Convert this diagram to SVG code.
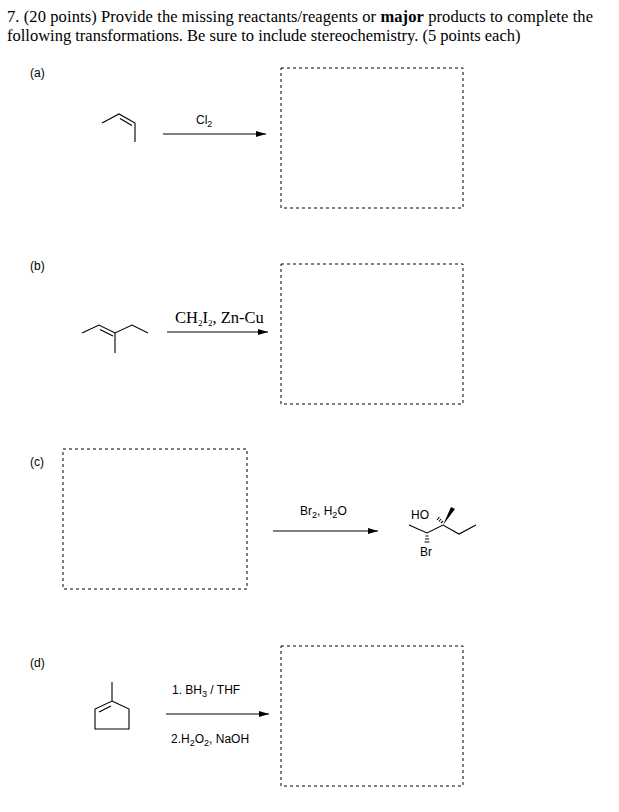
<svg xmlns="http://www.w3.org/2000/svg" width="619" height="812" viewBox="0 0 619 812">
<style>
.serif{font-family:"Liberation Serif",serif;font-size:16.5px;fill:#000}
.sans{font-family:"Liberation Sans",Arial,sans-serif;font-size:12px;fill:#000}
.box{fill:none;stroke:#000;stroke-width:1;stroke-dasharray:3,3}
.bond{fill:none;stroke:#000;stroke-width:1.1}
.arrow{stroke:#000;stroke-width:1.2;marker-end:url(#ah)}
</style>
<defs><marker id="ah" markerWidth="10" markerHeight="6" refX="10" refY="3" orient="auto" markerUnits="userSpaceOnUse"><path d="M0,0 L10,3 L0,6 Z" fill="#000"/></marker></defs>
<rect width="619" height="812" fill="#fff"/>
<text class="serif" x="7" y="22" textLength="586">7. (20 points) Provide the missing reactants/reagents or <tspan font-weight="bold">major</tspan> products to complete the</text>
<text class="serif" x="7" y="41">following transformations.  Be sure to include stereochemistry. (5 points each)</text>
<g id="a">
<text class="sans" x="30" y="77">(a)</text>
<path class="bond" d="M102,123 L119,114 L135,123 L135,142 M120,118.5 L132,125.5"/>
<text class="sans" x="196" y="124">Cl<tspan font-size="9" dy="3">2</tspan></text>
<rect class="box" x="281" y="68" width="182" height="140"/>
</g>
<g id="b">
<text class="sans" x="30" y="270">(b)</text>
<path class="bond" d="M82,333 L99,325 L115,333 L132,325 L148,333 M115,333 L115,353 M100,329.5 L113,336"/>
<text class="serif" x="175" y="323" font-size="13">CH<tspan font-size="9" dy="3">2</tspan><tspan dy="-3">I</tspan><tspan font-size="9" dy="3">2</tspan><tspan dy="-3">, Zn-Cu</tspan></text>
<rect class="box" x="281" y="264" width="182" height="140"/>
</g>
<g id="c">
<text class="sans" x="30" y="466">(c)</text>
<rect class="box" x="63" y="449" width="184" height="140"/>
<text class="sans" x="300" y="515">Br<tspan font-size="9" dy="3">2</tspan><tspan dy="-3">, H</tspan><tspan font-size="9" dy="3">2</tspan><tspan dy="-3">O</tspan></text>
<text class="sans" x="411" y="519">HO</text>
<path class="bond" d="M409,525 L427,533 L443,525 L459,534 L476,525"/>
<path d="M443,525 L451,507 L455,509 Z" fill="#000"/>
<path class="bond" stroke-width="0.9" d="M441,523 L443,521 M439,521.5 L441,519 M437,520 L439.5,517"/>
<path class="bond" stroke-width="0.9" d="M425.5,536 L428.5,536 M425,539 L429,539 M424.5,542 L429.5,542"/>
<text class="sans" x="420" y="556">Br</text>
</g>
<g id="d">
<text class="sans" x="30" y="667">(d)</text>
<path class="bond" d="M112,682 L112,701 M112,701 L129,709 L129,729 L95,729 L95,709 Z M99,712 L111,706"/>
<text class="sans" x="172" y="694">1. BH<tspan font-size="9" dy="3">3</tspan><tspan dy="-3"> / THF</tspan></text>
<text class="sans" x="171" y="743">2.H<tspan font-size="9" dy="3">2</tspan><tspan dy="-3">O</tspan><tspan font-size="9" dy="3">2</tspan><tspan dy="-3">, NaOH</tspan></text>
<rect class="box" x="281" y="646" width="182" height="140"/>
</g>
<g id="connectors">
<line class="arrow" x1="163" y1="134" x2="266" y2="134"/>
<line class="arrow" x1="167" y1="332" x2="268" y2="332"/>
<line class="arrow" x1="273" y1="531" x2="378" y2="531"/>
<line class="arrow" x1="166" y1="714" x2="269" y2="714"/>
</g>
</svg>
